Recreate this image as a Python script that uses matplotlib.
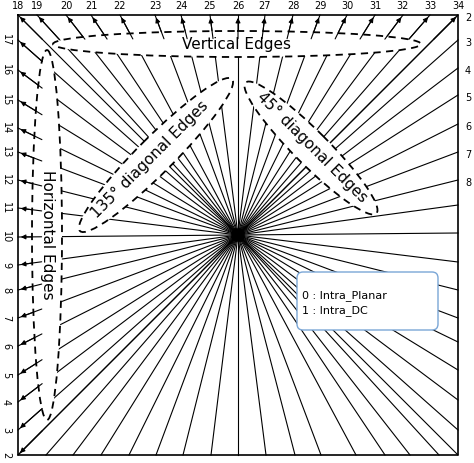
import matplotlib.pyplot as plt
from matplotlib.patches import Ellipse, FancyBboxPatch, Circle

# mode numbers and where each mode's arrow meets the border (px)
hor_modes = list(range(2, 18))
hor_y = [455, 430, 402, 375, 346, 318, 290, 265, 237, 208, 180, 152, 128, 100, 70, 40]
ver_modes = list(range(18, 35))
ver_x = [18, 37, 66, 91, 120, 155, 181, 210, 238, 265, 293, 320, 347, 375, 403, 430, 458]
right_modes = list(range(2, 9))
legend_lines = ["0 : Intra_Planar", "1 : Intra_DC"]

L, R, T, B = 18, 458, 15, 455
cx, cy = (L + R) / 2, (T + B) / 2

fig = plt.figure(figsize=(4.74, 4.63), dpi=100)
ax = fig.add_axes([0, 0, 1, 1])
ax.set_xlim(0, 474)
ax.set_ylim(463, 0)
ax.axis("off")

ax.plot([L, R, R, L, L], [T, T, B, B, T], color="black", lw=1.2, zorder=1)

arrow_kw = dict(arrowstyle="-|>", color="black", lw=0.8, mutation_scale=7)

def ray(x0, y0):
    # full line through the centre, arrow on the mode end
    ax.plot([x0, 2 * cx - x0], [y0, 2 * cy - y0], color="black", lw=0.8, zorder=1)
    ax.annotate("", xy=(x0, y0), xytext=(x0 + (cx - x0) * 0.12, y0 + (cy - y0) * 0.12),
                arrowprops=arrow_kw, zorder=4)

for m, y in zip(hor_modes, hor_y):
    ray(L, y)
    ax.text(6, y, str(m), rotation=-90, ha="center", va="center", fontsize=7)

for m, x in zip(ver_modes, ver_x):
    ray(x, T)
    ax.text(x, 6, str(m), ha="center", va="center", fontsize=7)

for m in right_modes:
    y = hor_y[m - 2]
    ax.text(465, 2 * cy - y + 3, str(m), ha="left", va="center", fontsize=7)

ax.add_patch(Circle((cx, cy), 6, color="black", zorder=5))

ell_kw = dict(facecolor="white", edgecolor="black", lw=1.3, ls=(0, (4, 3)), zorder=3)
ax.add_patch(Ellipse((237, 44), 368, 26, **ell_kw))
ax.add_patch(Ellipse((47, 235), 30, 370, **ell_kw))
ax.add_patch(Ellipse((156, 155), 215, 36, angle=-45, **ell_kw))
ax.add_patch(Ellipse((311, 148), 185, 34, angle=45, **ell_kw))

ax.text(237, 45, "Vertical Edges", ha="center", va="center", fontsize=11, zorder=6)
ax.text(47, 235, "Horizontal Edges", ha="center", va="center", rotation=-90, fontsize=11, zorder=6)
ax.text(150, 160, "135° diagonal Edges", ha="center", va="center", rotation=45, fontsize=11, zorder=6)
ax.text(312, 147, "45° diagonal Edges", ha="center", va="center", rotation=-45, fontsize=11, zorder=6)

ax.add_patch(FancyBboxPatch((297, 272), 141, 58, boxstyle="round,pad=0,rounding_size=6",
                            facecolor="white", edgecolor="#7aa6d6", lw=1, zorder=6))
for i, t in enumerate(legend_lines):
    ax.text(302, 296 + i * 15, t, ha="left", va="center", fontsize=8, zorder=7)

fig.savefig("out.png", dpi=100)
